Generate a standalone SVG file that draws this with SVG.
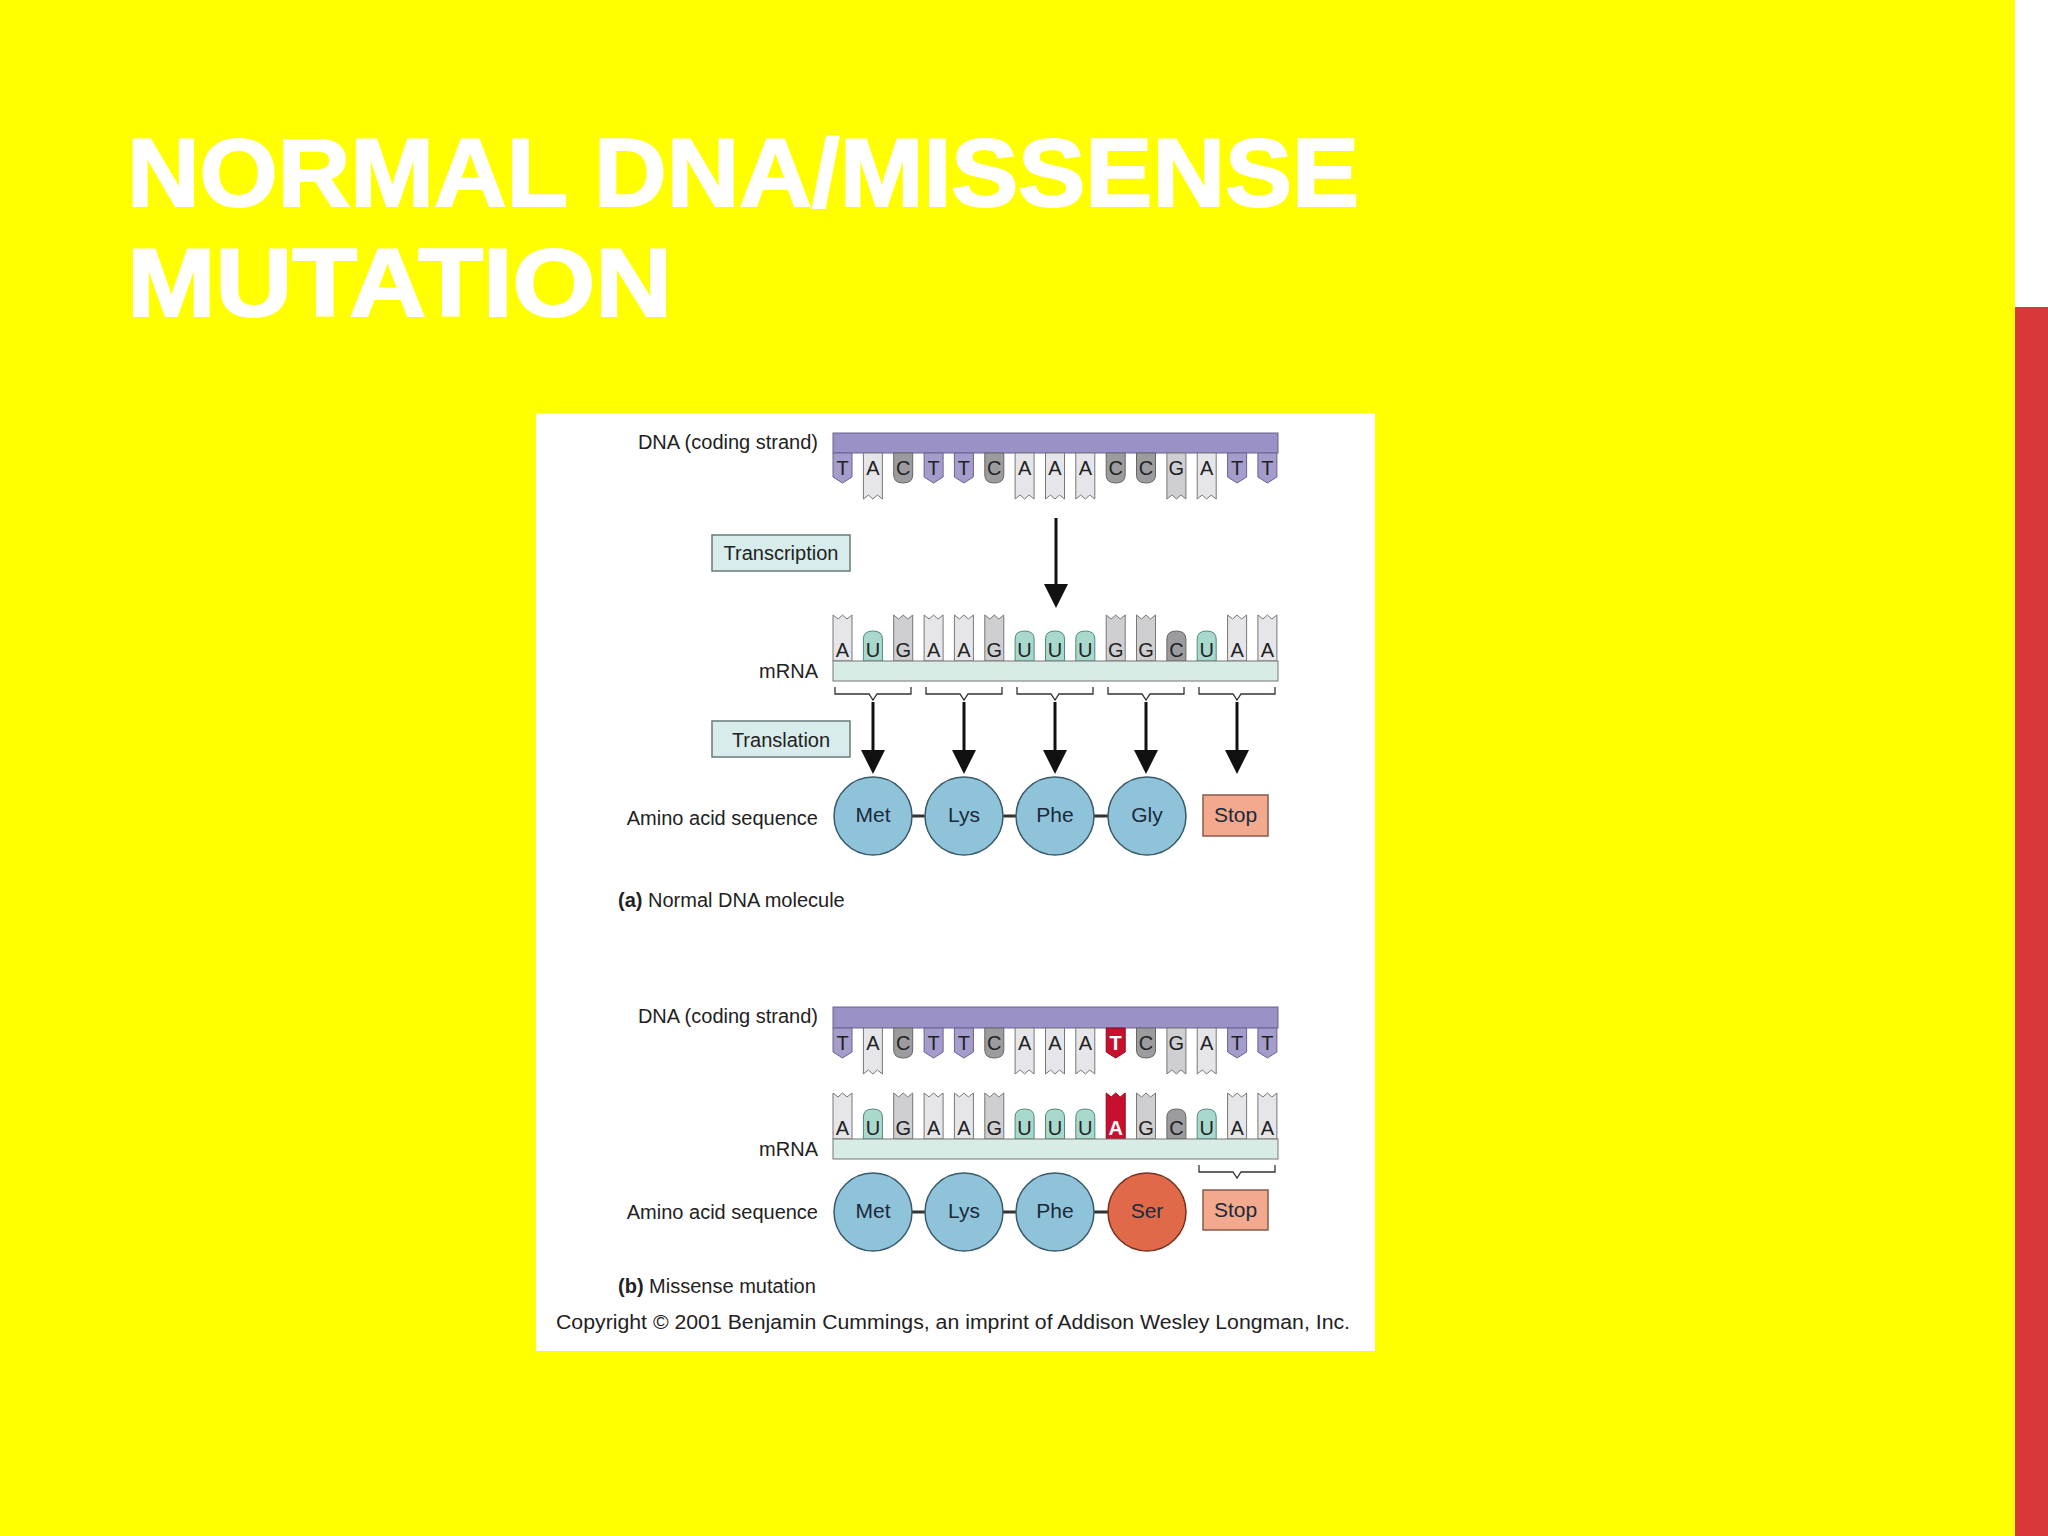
<svg xmlns="http://www.w3.org/2000/svg" xmlns:xlink="http://www.w3.org/1999/xlink" width="2048" height="1536" viewBox="0 0 2048 1536">
<style>
.t{font-family:"Liberation Sans",Arial,sans-serif;font-size:20px;fill:#222}
.nl{font-family:"Liberation Sans",Arial,sans-serif;font-size:20px;fill:#222;text-anchor:middle}
.w{fill:#fff}
.aa{font-family:"Liberation Sans",Arial,sans-serif;font-size:21px;fill:#1a2a3a;text-anchor:middle}
.T{fill:#a49cca;stroke:#6a6290;stroke-width:1}
.A{fill:#e6e6ea;stroke:#777;stroke-width:1}
.G{fill:#cfcfd2;stroke:#777;stroke-width:1}
.C{fill:#9c9c9e;stroke:#666;stroke-width:1}
.U{fill:#a9d8cc;stroke:#4f8a80;stroke-width:1}
.R{fill:#c8102e;stroke:#8a0a1e;stroke-width:1}
.box{fill:#d8ecec;stroke:#6a7a7a;stroke-width:1.5}
.circ{fill:#8fc3da;stroke:#3a5a6a;stroke-width:1.5}
.brace{fill:none;stroke:#333;stroke-width:1.3}
.arr{stroke:#111;stroke-width:3;fill:none;marker-end:url(#ah)}
</style>
<defs>
<marker id="ah" markerWidth="8" markerHeight="8" refX="4" refY="4" orient="auto" markerUnits="strokeWidth"><path d="M0,0 L8,4 L0,8 Z" fill="#111"/></marker>
<path id="dS" d="M0,0 H19 V24 L9.5,30 L0,24 Z"/>
<path id="dR" d="M0,0 H19 V22 Q19,30 9.5,30 Q0,30 0,22 Z"/>
<path id="dL" d="M0,0 H19 V46 L14,42 L9.5,46 L5,42 L0,46 Z"/>
<path id="mL" d="M0,0 V-46 L5,-42 L9.5,-46 L14,-42 L19,-46 V0 Z"/>
<path id="mR" d="M0,0 V-22 Q0,-30 9.5,-30 Q19,-30 19,-22 V0 Z"/>
</defs>
<rect width="2048" height="1536" fill="#ffff00"/>
<rect x="2015" y="0" width="33" height="307" fill="#ffffff"/>
<rect x="2015" y="307" width="33" height="1229" fill="#d9383a"/>
<g id="title" font-family="'Liberation Sans',Arial,sans-serif" font-weight="bold" font-size="96" fill="#ffffff" stroke="#ffffff" stroke-width="2">
<text x="127" y="206" textLength="1232" lengthAdjust="spacingAndGlyphs">NORMAL DNA/MISSENSE</text>
<text x="127" y="316" textLength="545" lengthAdjust="spacingAndGlyphs">MUTATION</text>
</g>
<rect x="536" y="413" width="839" height="938" fill="#ffffff"/>

<g id="partA">
<text class="t" x="818" y="449" text-anchor="end">DNA (coding strand)</text>
<rect x="833" y="433" width="445" height="20" fill="#9a92c6" stroke="#6a6290"/>
<g id="dnaA">
<use href="#dS" class="T" x="833" y="453"/><text class="nl" x="842.5" y="475">T</text>
<use href="#dL" class="A" x="863.4" y="453"/><text class="nl" x="872.9" y="475">A</text>
<use href="#dR" class="C" x="893.7" y="453"/><text class="nl" x="903.2" y="475">C</text>
<use href="#dS" class="T" x="924.1" y="453"/><text class="nl" x="933.6" y="475">T</text>
<use href="#dS" class="T" x="954.4" y="453"/><text class="nl" x="963.9" y="475">T</text>
<use href="#dR" class="C" x="984.8" y="453"/><text class="nl" x="994.3" y="475">C</text>
<use href="#dL" class="A" x="1015.1" y="453"/><text class="nl" x="1024.6" y="475">A</text>
<use href="#dL" class="A" x="1045.5" y="453"/><text class="nl" x="1055" y="475">A</text>
<use href="#dL" class="A" x="1075.8" y="453"/><text class="nl" x="1085.3" y="475">A</text>
<use href="#dR" class="C" x="1106.2" y="453"/><text class="nl" x="1115.7" y="475">C</text>
<use href="#dR" class="C" x="1136.5" y="453"/><text class="nl" x="1146" y="475">C</text>
<use href="#dL" class="G" x="1166.9" y="453"/><text class="nl" x="1176.4" y="475">G</text>
<use href="#dL" class="A" x="1197.2" y="453"/><text class="nl" x="1206.7" y="475">A</text>
<use href="#dS" class="T" x="1227.6" y="453"/><text class="nl" x="1237.1" y="475">T</text>
<use href="#dS" class="T" x="1257.9" y="453"/><text class="nl" x="1267.4" y="475">T</text>
</g>
<g id="transcription"><rect class="box" x="712" y="535" width="138" height="36"/><text class="t" x="781" y="560" text-anchor="middle">Transcription</text></g>
<text class="t" x="818" y="678" text-anchor="end">mRNA</text>
<g id="mrnaA">
<use href="#mL" class="A" x="833" y="661"/><text class="nl" x="842.5" y="657">A</text>
<use href="#mR" class="U" x="863.4" y="661"/><text class="nl" x="872.9" y="657">U</text>
<use href="#mL" class="G" x="893.7" y="661"/><text class="nl" x="903.2" y="657">G</text>
<use href="#mL" class="A" x="924.1" y="661"/><text class="nl" x="933.6" y="657">A</text>
<use href="#mL" class="A" x="954.4" y="661"/><text class="nl" x="963.9" y="657">A</text>
<use href="#mL" class="G" x="984.8" y="661"/><text class="nl" x="994.3" y="657">G</text>
<use href="#mR" class="U" x="1015.1" y="661"/><text class="nl" x="1024.6" y="657">U</text>
<use href="#mR" class="U" x="1045.5" y="661"/><text class="nl" x="1055" y="657">U</text>
<use href="#mR" class="U" x="1075.8" y="661"/><text class="nl" x="1085.3" y="657">U</text>
<use href="#mL" class="G" x="1106.2" y="661"/><text class="nl" x="1115.7" y="657">G</text>
<use href="#mL" class="G" x="1136.5" y="661"/><text class="nl" x="1146" y="657">G</text>
<use href="#mR" class="C" x="1166.9" y="661"/><text class="nl" x="1176.4" y="657">C</text>
<use href="#mR" class="U" x="1197.2" y="661"/><text class="nl" x="1206.7" y="657">U</text>
<use href="#mL" class="A" x="1227.6" y="661"/><text class="nl" x="1237.1" y="657">A</text>
<use href="#mL" class="A" x="1257.9" y="661"/><text class="nl" x="1267.4" y="657">A</text>
</g>
<rect x="833" y="661" width="445" height="20" fill="#d6ece4" stroke="#777"/>
<g id="bracesA" class="brace">
<path d="M835,687 V694 H869 L873,700 L877,694 H911 V687"/>
<path d="M926,687 V694 H960 L964,700 L968,694 H1002 V687"/>
<path d="M1017,687 V694 H1051 L1055,700 L1059,694 H1093 V687"/>
<path d="M1108,687 V694 H1142 L1146,700 L1150,694 H1184 V687"/>
<path d="M1199,687 V694 H1233 L1237,700 L1241,694 H1275 V687"/>
</g>
<g id="translation"><rect class="box" x="712" y="721" width="138" height="36"/><text class="t" x="781" y="747" text-anchor="middle">Translation</text></g>
<text class="t" x="818" y="825" text-anchor="end">Amino acid sequence</text>
<g id="chainA">
<line x1="873" y1="816" x2="1147" y2="816" stroke="#333" stroke-width="3"/>
<circle class="circ" cx="873" cy="816" r="39"/><text class="aa" x="873" y="822">Met</text>
<circle class="circ" cx="964" cy="816" r="39"/><text class="aa" x="964" y="822">Lys</text>
<circle class="circ" cx="1055" cy="816" r="39"/><text class="aa" x="1055" y="822">Phe</text>
<circle class="circ" cx="1147" cy="816" r="39"/><text class="aa" x="1147" y="822">Gly</text>
<rect x="1203" y="795" width="65" height="41" fill="#f2a98e" stroke="#8a5a4a" stroke-width="1.5"/><text class="aa" x="1235.5" y="822">Stop</text>
</g>
<text class="t" x="618" y="907"><tspan font-weight="bold">(a)</tspan>  Normal DNA molecule</text>
</g>

<g id="connectors">
<line class="arr" x1="1056" y1="518" x2="1056" y2="596"/>
<line class="arr" x1="873" y1="702" x2="873" y2="762"/>
<line class="arr" x1="964" y1="702" x2="964" y2="762"/>
<line class="arr" x1="1055" y1="702" x2="1055" y2="762"/>
<line class="arr" x1="1146" y1="702" x2="1146" y2="762"/>
<line class="arr" x1="1237" y1="702" x2="1237" y2="762"/>
</g>

<g id="partB">
<text class="t" x="818" y="1023" text-anchor="end">DNA (coding strand)</text>
<rect x="833" y="1007" width="445" height="21" fill="#9a92c6" stroke="#6a6290"/>
<g id="dnaB">
<use href="#dS" class="T" x="833" y="1028"/><text class="nl" x="842.5" y="1050">T</text>
<use href="#dL" class="A" x="863.4" y="1028"/><text class="nl" x="872.9" y="1050">A</text>
<use href="#dR" class="C" x="893.7" y="1028"/><text class="nl" x="903.2" y="1050">C</text>
<use href="#dS" class="T" x="924.1" y="1028"/><text class="nl" x="933.6" y="1050">T</text>
<use href="#dS" class="T" x="954.4" y="1028"/><text class="nl" x="963.9" y="1050">T</text>
<use href="#dR" class="C" x="984.8" y="1028"/><text class="nl" x="994.3" y="1050">C</text>
<use href="#dL" class="A" x="1015.1" y="1028"/><text class="nl" x="1024.6" y="1050">A</text>
<use href="#dL" class="A" x="1045.5" y="1028"/><text class="nl" x="1055" y="1050">A</text>
<use href="#dL" class="A" x="1075.8" y="1028"/><text class="nl" x="1085.3" y="1050">A</text>
<use href="#dS" class="R" x="1106.2" y="1028"/><text class="nl w" x="1115.7" y="1050" font-weight="bold">T</text>
<use href="#dR" class="C" x="1136.5" y="1028"/><text class="nl" x="1146" y="1050">C</text>
<use href="#dL" class="G" x="1166.9" y="1028"/><text class="nl" x="1176.4" y="1050">G</text>
<use href="#dL" class="A" x="1197.2" y="1028"/><text class="nl" x="1206.7" y="1050">A</text>
<use href="#dS" class="T" x="1227.6" y="1028"/><text class="nl" x="1237.1" y="1050">T</text>
<use href="#dS" class="T" x="1257.9" y="1028"/><text class="nl" x="1267.4" y="1050">T</text>
</g>
<text class="t" x="818" y="1156" text-anchor="end">mRNA</text>
<g id="mrnaB">
<use href="#mL" class="A" x="833" y="1139"/><text class="nl" x="842.5" y="1135">A</text>
<use href="#mR" class="U" x="863.4" y="1139"/><text class="nl" x="872.9" y="1135">U</text>
<use href="#mL" class="G" x="893.7" y="1139"/><text class="nl" x="903.2" y="1135">G</text>
<use href="#mL" class="A" x="924.1" y="1139"/><text class="nl" x="933.6" y="1135">A</text>
<use href="#mL" class="A" x="954.4" y="1139"/><text class="nl" x="963.9" y="1135">A</text>
<use href="#mL" class="G" x="984.8" y="1139"/><text class="nl" x="994.3" y="1135">G</text>
<use href="#mR" class="U" x="1015.1" y="1139"/><text class="nl" x="1024.6" y="1135">U</text>
<use href="#mR" class="U" x="1045.5" y="1139"/><text class="nl" x="1055" y="1135">U</text>
<use href="#mR" class="U" x="1075.8" y="1139"/><text class="nl" x="1085.3" y="1135">U</text>
<use href="#mL" class="R" x="1106.2" y="1139"/><text class="nl w" x="1115.7" y="1135" font-weight="bold">A</text>
<use href="#mL" class="G" x="1136.5" y="1139"/><text class="nl" x="1146" y="1135">G</text>
<use href="#mR" class="C" x="1166.9" y="1139"/><text class="nl" x="1176.4" y="1135">C</text>
<use href="#mR" class="U" x="1197.2" y="1139"/><text class="nl" x="1206.7" y="1135">U</text>
<use href="#mL" class="A" x="1227.6" y="1139"/><text class="nl" x="1237.1" y="1135">A</text>
<use href="#mL" class="A" x="1257.9" y="1139"/><text class="nl" x="1267.4" y="1135">A</text>
</g>
<rect x="833" y="1139" width="445" height="20" fill="#d6ece4" stroke="#777"/>
<path class="brace" d="M1199,1165 V1172 H1233 L1237,1178 L1241,1172 H1275 V1165"/>
<text class="t" x="818" y="1219" text-anchor="end">Amino acid sequence</text>
<g id="chainB">
<line x1="873" y1="1212" x2="1147" y2="1212" stroke="#333" stroke-width="3"/>
<circle class="circ" cx="873" cy="1212" r="39"/><text class="aa" x="873" y="1218">Met</text>
<circle class="circ" cx="964" cy="1212" r="39"/><text class="aa" x="964" y="1218">Lys</text>
<circle class="circ" cx="1055" cy="1212" r="39"/><text class="aa" x="1055" y="1218">Phe</text>
<circle cx="1147" cy="1212" r="39" fill="#e0694a" stroke="#7a3020" stroke-width="1.5"/><text class="aa" x="1147" y="1218" fill="#5a1a10">Ser</text>
<rect x="1203" y="1190" width="65" height="40" fill="#f2a98e" stroke="#8a5a4a" stroke-width="1.5"/><text class="aa" x="1235.5" y="1217">Stop</text>
</g>
<text class="t" x="618" y="1293"><tspan font-weight="bold">(b)</tspan>  Missense mutation</text>
<text class="t" x="953" y="1329" text-anchor="middle" textLength="794" lengthAdjust="spacingAndGlyphs">Copyright © 2001 Benjamin Cummings, an imprint of Addison Wesley Longman, Inc.</text>
</g>
</svg>
